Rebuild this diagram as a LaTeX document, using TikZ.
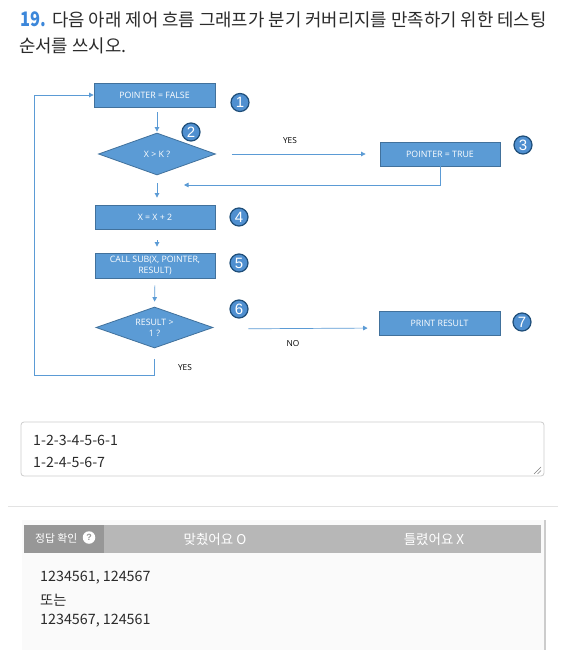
\documentclass[tikz,border=0pt]{standalone}
\usepackage{fontspec}
\setmainfont{Liberation Sans}
\newfontfamily\kr{Noto Sans CJK KR}
\newfontfamily\fc{Open Sans}
\usetikzlibrary{shapes.geometric,arrows.meta}
\definecolor{boxblue}{HTML}{5B9BD5}
\definecolor{boxedge}{HTML}{41719C}
\definecolor{circedge}{HTML}{1F4E79}
\definecolor{circfill}{HTML}{4F8FD0}
\definecolor{titleblue}{HTML}{3C87DA}
\definecolor{ink}{HTML}{2B2B2B}
\definecolor{hdrgray}{HTML}{B7B7B7}
\definecolor{hdrdark}{HTML}{979797}
\definecolor{panelbg}{HTML}{FAFAFA}
\definecolor{sepgray}{HTML}{E3E3E3}
\definecolor{areaedge}{HTML}{CCCCCC}
\begin{document}
\begin{tikzpicture}[x=1pt,y=-1pt,
  box/.style={rectangle,draw=boxedge,fill=boxblue,line width=0.8pt,minimum width=120pt,minimum height=24pt,inner sep=0pt,text=white,font=\fc\fontsize{8.8}{11}\selectfont,align=center},
  dia/.style={diamond,draw=boxedge,fill=boxblue,line width=0.8pt,minimum width=117pt,minimum height=42pt,inner sep=0pt,aspect=2.8,text=white,font=\fc\fontsize{8.8}{11}\selectfont,align=center},
  num/.style={circle,draw=circedge,fill=circfill,line width=1.2pt,minimum size=18pt,inner sep=0pt,text=white,font=\fontsize{15}{15}\selectfont},
  arr/.style={draw=boxblue,line width=0.7pt,-{Triangle[length=4.5pt,width=4.5pt]}},
  lbl/.style={font=\fc\fontsize{8.3}{9}\selectfont,text=black,inner sep=0pt},
  krtext/.style={font=\kr\fontsize{14.2}{16}\selectfont,text=ink,inner sep=0pt},
  hdr/.style={font=\kr\fontsize{13.5}{16}\selectfont,text=white,inner sep=0pt}]
\useasboundingbox (0,0) rectangle (574,650);
\fill[white] (0,0) rectangle (574,650);
% title
\node[anchor=base west,inner sep=0pt,text=titleblue,font=\kr\bfseries\fontsize{20}{22}\selectfont] (qn) at (20.5,27) {\scalebox{0.82}[1]{19.}};
\node[anchor=base west,inner sep=0pt,text=ink,font=\kr\fontsize{17.8}{20}\selectfont] (t1) at (52,27) {다음 아래 제어 흐름 그래프가 분기 커버리지를 만족하기 위한 테스팅};
\node[anchor=base west,inner sep=0pt,text=ink,font=\kr\fontsize{17.8}{20}\selectfont] (t2) at (19,53) {순서를 쓰시오.};
% flowchart nodes
\node[box,minimum width=121pt] (b1) at (154.5,95) {POINTER = FALSE};
\node[dia] (d2) at (157,154) {X > K ?};
\node[box] (b3) at (440,154) {POINTER = TRUE};
\node[box] (b4) at (155,217) {X = X + 2};
\node[box,minimum height=25pt] (b5) at (155,265.5) {CALL SUB(X, POINTER,\\RESULT)};
\node[dia,minimum height=41pt] (d6) at (154.5,327.5) {RESULT >\\1 ?};
\node[box,minimum width=121pt] (b7) at (439.5,323) {PRINT RESULT};
% number circles
\node[num] (c1) at (240,102.5) {1};
\node[num] (c2) at (191,132) {2};
\node[num] (c3) at (523,145) {3};
\node[num] (c4) at (239,217) {4};
\node[num] (c5) at (239,263) {5};
\node[num] (c6) at (239,309) {6};
\node[num] (c7) at (522,322) {7};
% labels
\node[lbl] (yes1) at (290,141) {YES};
\node[lbl] (no1) at (293,344) {NO};
\node[lbl] (yes2) at (185,368) {YES};
% connectors
\draw[arr,shorten <=5pt,shorten >=1pt] (b1.south -| d2.north) -- (d2.north);
\draw[arr,shorten <=16pt,shorten >=14pt] (d2.east) -- (b3.west);
\coordinate (ret) at (184,185);
\draw[arr] (b3.south) |- (ret);
\draw[arr,shorten <=8pt,shorten >=7pt] (d2.south) -- (d2.south |- b4.north);
\draw[arr,shorten <=11pt,shorten >=6pt] ([xshift=2pt]b4.south) -- ([xshift=2pt]b5.north);
\draw[arr,shorten <=7pt,shorten >=5pt] (b5.south) -- (d6.north);
\draw[arr,shorten <=35pt,shorten >=11pt] ([yshift=-1.5pt]d6.east) -- ([yshift=-5pt]b7.west);
\coordinate (lp) at (34,375);
\draw[arr] ([yshift=-11pt]d6.south) |- (lp) |- (b1.west);
% answer textarea
\draw[areaedge,fill=white,rounded corners=3pt,line width=0.8pt] (21,422) rectangle (544,476);
\draw[gray,line width=0.5pt] (534,474) -- (541,467) (537.5,474) -- (541,470.5);
\node[krtext,anchor=west] (a1) at (33,440) {1-2-3-4-5-6-1};
\node[krtext,anchor=west] (a2) at (33,462) {1-2-4-5-6-7};
% separator
\draw[sepgray,line width=1pt] (8,506) -- (558,506);
% panel
\fill[panelbg] (22,520) rectangle (544,650);
\draw[areaedge,line width=1.2pt] (545,520) -- (545,650);
\fill[hdrgray] (24,525) rectangle (541,553);
\fill[hdrdark] (24,525) rectangle (104,553);
\node[hdr,anchor=west,font=\kr\fontsize{10.8}{12}\selectfont] (h0) at (35,538.5) {정답 확인};
\node[circle,fill=white,minimum size=12.5pt,inner sep=0pt,text=hdrdark,font=\bfseries\fontsize{9}{9}\selectfont] (hq) at (89,537.5) {?};
\node[hdr] (h1) at (215,539) {맞췄어요 O};
\node[hdr] (h2) at (434,539) {틀렸어요 X};
\node[krtext,anchor=west,font=\kr\fontsize{14.3}{16}\selectfont] (r1) at (40,578) {1234561, 124567};
\node[krtext,anchor=west,font=\kr\fontsize{14.3}{16}\selectfont] (r2) at (40,600) {또는};
\node[krtext,anchor=west,font=\kr\fontsize{14.3}{16}\selectfont] (r3) at (40,621) {1234567, 124561};
\end{tikzpicture}
\end{document}
